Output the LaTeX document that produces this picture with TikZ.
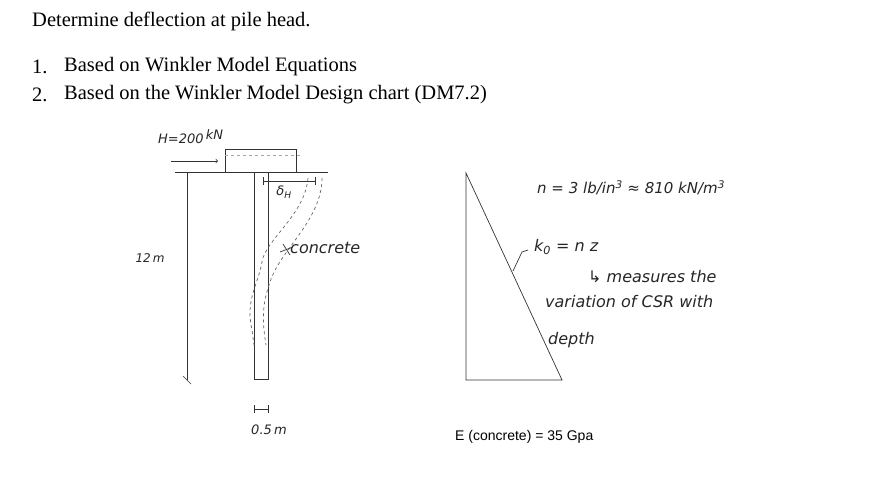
\documentclass[tikz,border=0pt]{standalone}
\usepackage{fontspec}
\setmainfont{Liberation Serif}
\newfontfamily\hand{DejaVu Sans}
\newfontfamily\arialf{Liberation Sans}
\begin{document}
\begin{tikzpicture}[x=1pt,y=-1pt,
  ln/.style={draw=black!80,line width=0.7pt},
  dsh/.style={draw=black!60,dashed,line width=0.7pt},
  hw/.style={font=\hand\itshape\fontsize{16}{18}\selectfont,text=black!85,inner sep=0pt},
  hdr/.style={font=\fontsize{20.5}{22}\selectfont,anchor=west,inner sep=0pt}]
\useasboundingbox (0,0) rectangle (871,493);
\node[hdr] (t0) at (32,21) {Determine deflection at pile head.};
\node[hdr] (n1) at (32,67) {1.};
\node[hdr] (t1) at (64,67) {Based on Winkler Model Equations};
\node[hdr] (n2) at (32,95) {2.};
\node[hdr] (t2) at (64,95) {Based on the Winkler Model Design chart (DM7.2)};
% ground and cap
\draw[ln] (175,172) -- (328,172);
\draw[ln] (225,172) -- (225,149) -- (296,149) -- (296,172);
\draw[dsh,draw=black!35] (225,155) -- (300,155);
\coordinate (ha) at (171,161); \coordinate (hb) at (218,161);
\draw[ln,->] (ha) -- (hb);
\node[hw,anchor=west,font=\hand\itshape\fontsize{13}{14}\selectfont] (H) at (158,137) {H=200\,\raisebox{4pt}{kN}};
% 12 m
\coordinate (da) at (187,172); \coordinate (db) at (187,380);
\draw[ln] (da) -- (db);
\draw[ln] (183,376) -- (191,384);
\node[hw,font=\hand\itshape\fontsize{12}{13}\selectfont] (l12) at (150,258) {12\,m};
% pile
\draw[ln] (254,172) -- (254,379) -- (268,379) -- (268,172);
% deflection
\draw[ln] (263,181) -- (315,181);
\draw[ln] (263,177) -- (263,185);
\draw[ln] (315,177) -- (315,185);
\node[hw,font=\hand\itshape\fontsize{13}{14}\selectfont] (dH) at (284,192) {δ\textsubscript{H}};
\draw[dsh] (308,178) .. controls (305,215) and (265,240) .. (262,262) .. controls (258,285) and (245,300) .. (252,330) -- (254,345);
\draw[dsh] (322,178) .. controls (322,220) and (280,250) .. (270,282) .. controls (262,305) and (262,320) .. (266,345);
\node[hw,anchor=west] (cc) at (290,248) {concrete};
\draw[ln] (283,244) -- (290,255); \draw[ln] (280,252)--(293,247);
% 0.5 m
\draw[ln] (254,409) -- (268,409);
\draw[ln] (254,405) -- (254,413); \draw[ln] (268,405) -- (268,413);
\node[hw,font=\hand\itshape\fontsize{13}{14}\selectfont] (l05) at (269,430) {0.5\,m};
% triangle
\draw[ln] (466,173) -- (466,380) -- (562,380) -- cycle;
\draw[ln] (513,271) -- (522,252) -- (528,250);
\node[hw,anchor=west,font=\hand\itshape\fontsize{15}{16}\selectfont] (nn) at (537,188) {n = 3 lb/in\textsuperscript{3} ≈ 810 kN/m\textsuperscript{3}};
\node[hw,anchor=west] (k0) at (534,247) {k\textsubscript{0} = n z};
\node[hw,anchor=west] (ms) at (588,277) {↳ measures the};
\node[hw,anchor=west] (vr) at (545,302) {variation of CSR with};
\node[hw,anchor=west] (dp) at (548,340) {depth};
\node[font=\arialf\fontsize{14}{16}\selectfont,anchor=west,inner sep=0pt] (E) at (455,437) {E (concrete) = 35 Gpa};
\end{tikzpicture}
\end{document}
